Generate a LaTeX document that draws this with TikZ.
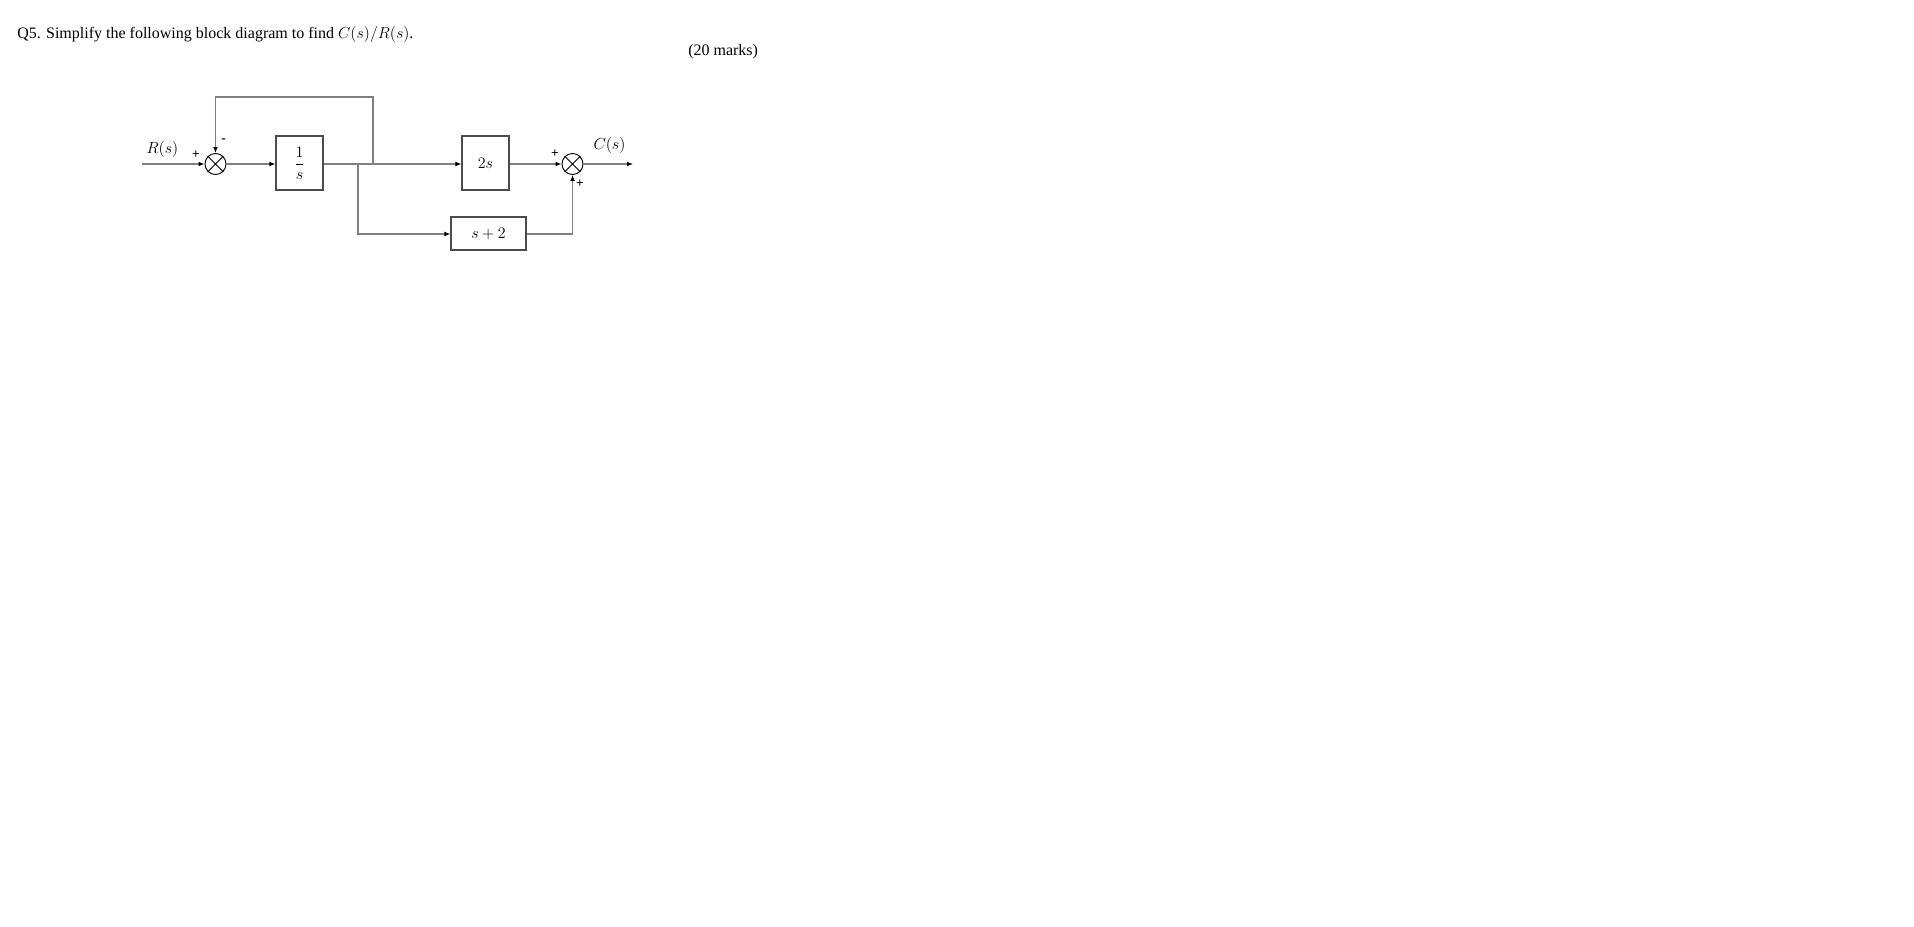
\documentclass[tikz,border=0pt]{standalone}
\usepackage{fontspec}
\setmainfont{Liberation Serif}
\usetikzlibrary{arrows.meta}
\begin{document}
\begin{tikzpicture}[x=0.75pt,y=-0.75pt,
  wire/.style={draw=black!50,line width=0.8pt},
  arr/.style={wire,-{Latex[length=4.5pt,width=3.6pt,color=black]}},
  blk/.style={draw=black!70,line width=0.85pt,fill=white,inner sep=0pt,font=\fontsize{12}{14}\selectfont},
  sumj/.style={circle,draw=black,line width=0.7pt,minimum size=21*0.75pt,inner sep=0pt},
  sgn/.style={font=\fontsize{10}{11}\selectfont\bfseries,inner sep=0pt},
  lbl/.style={font=\fontsize{12}{14}\selectfont,inner sep=0pt}]
\useasboundingbox (0,0) rectangle (1914,927);
% texts
\node[lbl,anchor=base west] (title) at (17,39) {Q5. Simplify the following block diagram to find $C(s)/R(s)$.};
\node[lbl,anchor=base west] (marks) at (688,56) {(20 marks)};
% blocks
\node[blk,minimum width=47*0.75pt,minimum height=54*0.75pt] (b1) at (299.5,163) {$\displaystyle\frac{1}{s}$};
\node[blk,minimum width=47*0.75pt,minimum height=54*0.75pt] (b2) at (485.5,163) {$2s$};
\node[blk,minimum width=75*0.75pt,minimum height=33*0.75pt] (b3) at (488.5,233.5) {$s+2$};
\node[sumj] (s1) at (215.5,164) {};
\node[sumj] (s2) at (572.5,164) {};
\foreach \s in {s1,s2}{
  \draw[black,line width=0.7pt] (\s.north east) -- (\s.south west) (\s.north west) -- (\s.south east);
}
% coordinates
\coordinate (in) at (142,164);
\coordinate (out) at (633,164);
\coordinate (br) at (358,164);
\coordinate (fb) at (373,164);
\coordinate (fbt) at (373,97);
\coordinate (fbl) at (215.5,97);
\coordinate (brd) at (358,234);
\coordinate (b3r) at (572.5,234);
% connectors
\draw[arr] (in) -- (s1.west);
\draw[arr] (s1.east) -- (b1.west |- s1.east);
\draw[arr] (b1.east |- s1.east) -- (b2.west |- s1.east);
\draw[arr] (fb) -- (fbt) -- (fbl) -- (s1.north);
\draw[arr] (br) -- (brd) -- (b3.west |- brd);
\draw[arr] (b2.east |- s2.west) -- (s2.west);
\draw[arr] (b3.east |- b3r) -- (b3r) -- (s2.south);
\draw[arr] (s2.east) -- (out);
% labels
\node[lbl] (rs) at (162.5,150) {$R(s)$};
\node[lbl] (cs) at (609.5,146) {$C(s)$};
\node[sgn] (p1) at (196,155) {+};
\node[sgn] (m1) at (223.5,141) {-};
\node[sgn] (p2) at (555,154) {+};
\node[sgn] (p3) at (580,184) {+};
\end{tikzpicture}
\end{document}
